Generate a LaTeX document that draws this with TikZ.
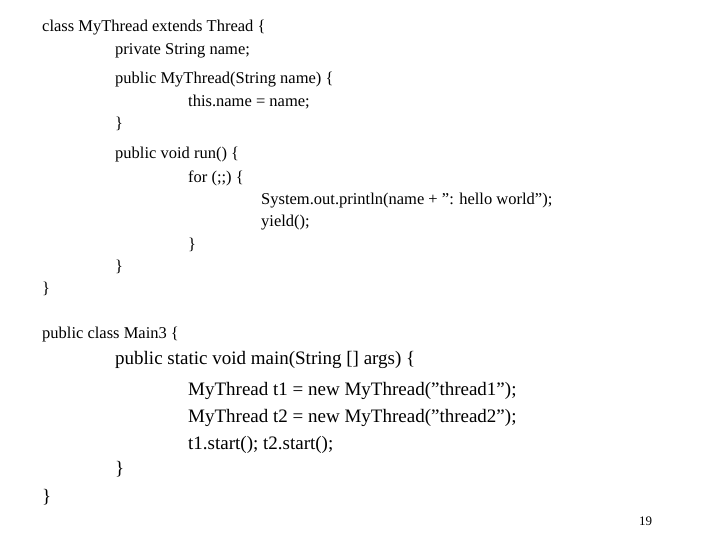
\documentclass[tikz,border=0pt]{standalone}
\usepackage{fontspec}
\setmainfont{Liberation Serif}
\tikzset{
	codeline/.style={anchor=west,inner sep=0pt,font=\fontsize{16.5}{18}\selectfont},%
	bigline/.style={codeline,font=\fontsize{19}{21}\selectfont},%
}
\begin{document}
\begin{tikzpicture}[x=1pt,y=-1pt]
	\useasboundingbox (0,0) rectangle (728,546);
	% class MyThread {{{
	\node[codeline] (c1) at (42,28) {class MyThread extends Thread \{};
	\node[codeline] (c2) at (115,51) {private String name;};
	\node[codeline] (c3) at (115,80) {public MyThread(String name) \{};
	\node[codeline] (c4) at (188,102) {this.name = name;};
	\node[codeline] (c5) at (115,124) {\}};
	\node[codeline] (c6) at (115,155) {public void run() \{};
	\node[codeline] (c7) at (188,178) {for (;;) \{};
	\node[codeline] (c8) at (261,201) {System.out.println(name + ": hello world");};
	\node[codeline] (c9) at (261,223) {yield();};
	\node[codeline] (c10) at (188,245) {\}};
	\node[codeline] (c11) at (115,267) {\}};
	\node[codeline] (c12) at (42,289) {\}};
	% }}}
	% class Main3 {{{
	\node[codeline] (m1) at (42,335) {public class Main3 \{};
	\node[bigline] (m2) at (115,360) {public static void main(String [] args) \{};
	\node[bigline] (m3) at (188,391) {MyThread t1 = new MyThread("thread1");};
	\node[bigline] (m4) at (188,418) {MyThread t2 = new MyThread("thread2");};
	\node[bigline] (m5) at (188,445) {t1.start(); t2.start();};
	\node[bigline] (m6) at (115,469) {\}};
	\node[bigline] (m7) at (42,497) {\}};
	% }}}
	\node[anchor=west,inner sep=0pt,font=\fontsize{13}{15}\selectfont] (page) at (639,521) {19};
\end{tikzpicture}
\end{document}
